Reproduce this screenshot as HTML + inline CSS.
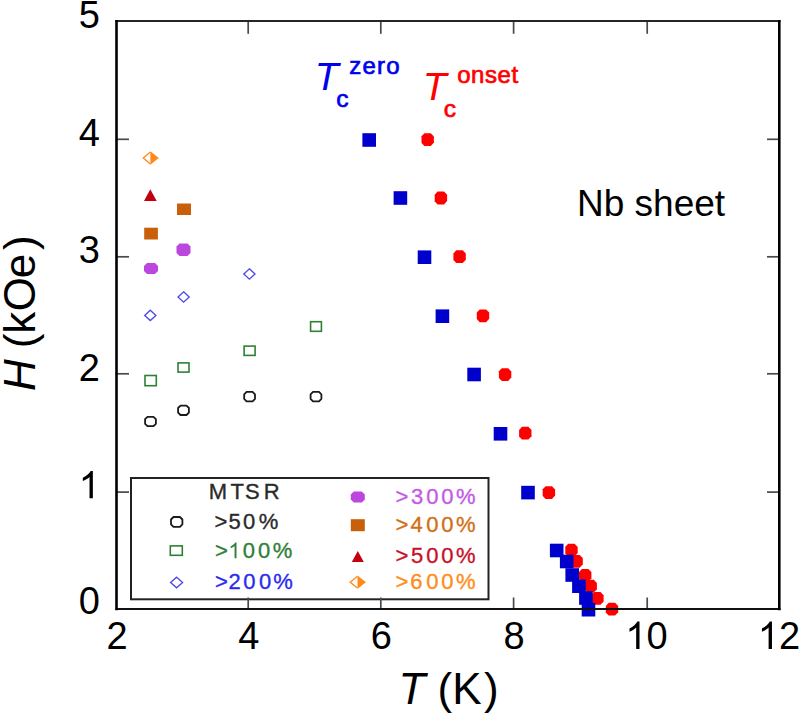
<!DOCTYPE html>
<html><head><meta charset="utf-8">
<style>
html,body{margin:0;padding:0;background:#fff;}
body{width:800px;height:714px;overflow:hidden;}
svg{display:block;}
text{font-family:"Liberation Sans", sans-serif;}
</style></head>
<body>
<svg width="800" height="714" viewBox="0 0 800 714">
<defs><path id="one" d="M763 0 L583 0 L583 1147 Q518 1085 415 1024 Q312 963 223 930 L223 1104 Q374 1175 486.5 1275.5 Q599 1376 648 1472 L763 1472 Z"/><path id="oct" d="M-3.3 -6.4 H3.1 L6.2 -3.2 V3 L3.1 6.4 H-3.3 L-6.2 3.3 V-3.3 Z"/></defs>
<rect width="800" height="714" fill="#fff"/>

<!-- Tc labels -->
<g fill="#0000ee">
<text x="314.7" y="89.7" font-size="39" font-style="italic">T</text>
<g stroke="#0000ee" stroke-width="0.7"><text x="336.3" y="107" font-size="24.5">c</text>
<text x="349.2" y="73.6" font-size="24" letter-spacing="1.2">zero</text></g>
</g>
<g fill="#ff0000">
<text x="422.8" y="99.5" font-size="39" font-style="italic">T</text>
<g stroke="#ff0000" stroke-width="0.7"><text x="443.8" y="117" font-size="24.5">c</text>
<text x="457.2" y="83" font-size="24" letter-spacing="0.55">onset</text></g>
</g>

<text x="577" y="216" font-size="37" fill="#000">Nb sheet</text>

<!-- MTSR data -->
<g fill="none" stroke="#1a1a1a" stroke-width="1.8" stroke-linejoin="round">
<path d="M147.5 416.8 L153.5 416.8 L155.9 419.2 L155.9 423.8 L153.5 426.2 L147.5 426.2 L145.1 423.8 L145.1 419.2 Z"/>
<path d="M180.5 405.6 L186.5 405.6 L188.9 408.0 L188.9 412.6 L186.5 415.0 L180.5 415.0 L178.1 412.6 L178.1 408.0 Z"/>
<path d="M246.6 391.9 L252.6 391.9 L255.0 394.3 L255.0 398.9 L252.6 401.3 L246.6 401.3 L244.2 398.9 L244.2 394.3 Z"/>
<path d="M313.0 391.9 L319.0 391.9 L321.4 394.3 L321.4 398.9 L319.0 401.3 L313.0 401.3 L310.6 398.9 L310.6 394.3 Z"/>
</g>
<g fill="none" stroke="#2f8037" stroke-width="1.6">
<rect x="145.0" y="375.5" width="11.3" height="10.2"/>
<rect x="178.0" y="362.9" width="11.0" height="9.2"/>
<rect x="244.1" y="346.1" width="11.0" height="9.3"/>
<rect x="310.6" y="321.7" width="10.8" height="9.6"/>
</g>
<g fill="none" stroke="#4a4ae8" stroke-width="1.35">
<path d="M150.3 310.2 L155.9 315.4 L150.3 320.6 L144.7 315.4 Z"/>
<path d="M183.6 291.8 L189.2 297 L183.6 302.2 L178 297 Z"/>
<path d="M249.4 268.8 L255 274 L249.4 279.2 L243.8 274 Z"/>
</g>
<g fill="#bb47dd">
<path d="M147 263 h8 l3 3 v5 l-3 3 h-8 l-3 -3 v-5 z"/>
<path d="M179.5 243.5 h8 l3 3 v6.5 l-3 3 h-8 l-3 -3 v-6.5 z"/>
</g>
<g fill="#c8600a">
<rect x="144.2" y="227.7" width="13.7" height="11.8"/>
<rect x="177" y="203.5" width="14" height="11.5"/>
</g>
<path d="M150.3 189.3 L156.7 201 L144 201 Z" fill="#c20010"/>
<g>
<path d="M150.4 151.2 L158.8 158 L150.4 164.8 Z" fill="#ff8a1a"/>
<path d="M150.4 151.9 L143.3 158 L150.4 164.1" fill="none" stroke="#ff8a1a" stroke-width="1.3"/>
</g>

<!-- Tc onset red circles -->
<g fill="#ff0000">
<use href="#oct" x="427.7" y="139.6"/>
<use href="#oct" x="440.9" y="198.0"/>
<use href="#oct" x="459.6" y="256.7"/>
<use href="#oct" x="483.0" y="315.8"/>
<use href="#oct" x="505.1" y="374.6"/>
<use href="#oct" x="525.3" y="433.2"/>
<use href="#oct" x="548.9" y="492.6"/>
<use href="#oct" x="571.5" y="550.1"/>
<use href="#oct" x="576.6" y="561.3"/>
<use href="#oct" x="585.2" y="575.3"/>
<use href="#oct" x="590.7" y="586.2"/>
<use href="#oct" x="597.4" y="598.4"/>
<use href="#oct" x="612.0" y="609.2"/>
</g>
<!-- Tc zero blue squares -->
<g fill="#0000cc">
<rect x="362.4" y="133.2" width="13.6" height="13.6"/>
<rect x="393.6" y="191.2" width="13.6" height="13.6"/>
<rect x="417.7" y="250.4" width="13.6" height="13.6"/>
<rect x="435.6" y="309.4" width="13.6" height="13.6"/>
<rect x="467.3" y="367.7" width="13.6" height="13.6"/>
<rect x="493.7" y="427" width="13.6" height="13.6"/>
<rect x="521.2" y="485.8" width="13.6" height="13.6"/>
<rect x="549.9" y="543.7" width="13.6" height="13.6"/>
<rect x="559.9" y="554.7" width="13.6" height="13.6"/>
<rect x="565.4" y="568.2" width="13.6" height="13.6"/>
<rect x="572.1" y="579.4" width="13.6" height="13.6"/>
<rect x="579.1" y="591.2" width="13.6" height="13.6"/>
<rect x="581.7" y="602.9" width="13.6" height="13.6"/>
</g>

<!-- Legend -->
<rect x="131" y="478" width="357.5" height="121.3" fill="#fff" stroke="#222" stroke-width="2"/>
<g font-size="22" stroke-width="0.35">
<text x="208.7 230.5 245 263.7" y="499.1" fill="#2a2a2a" stroke="#2a2a2a">MTSR</text>
<text x="214.4 228.6 243.1 258.7" y="528.9" fill="#2a2a2a" stroke="#2a2a2a">&gt;50%</text>
<text x="215 242.8 258 272.7" y="558.2" fill="#2f7f37" stroke="#2f7f37">&gt;00%</text>
<use href="#one" transform="translate(228.3 558.2) scale(0.010742 -0.010742)" fill="#2f7f37"/>
<text x="215 228.5 243.3 259.1 273.3" y="589" fill="#2a2af0" stroke="#2a2af0">&gt;200%</text>
<text x="395.6 410.9 426.2 441.3 456.1" y="503.8" fill="#c45ae6" stroke="#c45ae6">&gt;300%</text>
<text x="395.6 410.4 426.2 441.3 456.1" y="531.8" fill="#d07015" stroke="#d07015">&gt;400%</text>
<text x="395.6 410.9 426.2 441.3 456.1" y="563.4" fill="#c8102a" stroke="#c8102a">&gt;500%</text>
<text x="395.6 410.2 426.2 441.3 456.1" y="589.3" fill="#ff8c1a" stroke="#ff8c1a">&gt;600%</text>
</g>
<path d="M173.5 517.0 L179.9 517.0 L182.4 519.5 L182.4 524.3 L179.9 526.8 L173.5 526.8 L171.0 524.3 L171.0 519.5 Z" fill="none" stroke="#1a1a1a" stroke-width="1.8" stroke-linejoin="round"/>
<rect x="170.3" y="545.9" width="12" height="9.4" fill="none" stroke="#2f8037" stroke-width="1.6"/>
<path d="M176.6 577.2 L182.6 582.5 L176.6 587.8 L170.6 582.5 Z" fill="none" stroke="#4a4ae8" stroke-width="1.35"/>
<path d="M353.8 491.5 h8 l3 3 v5 l-3 3 h-8 l-3 -3 v-5 z" fill="#bb47dd"/>
<rect x="350.8" y="519.2" width="14" height="12" fill="#c8600a"/>
<path d="M357.8 551 L363.8 562 L351.8 562 Z" fill="#c20010"/>
<path d="M357.5 575.6 L366 582.2 L357.5 588.8 Z" fill="#ff8a1a"/>
<path d="M357.5 576.3 L350.2 582.2 L357.5 588.1" fill="none" stroke="#ff8a1a" stroke-width="1.3"/>

<!-- Frame -->
<g stroke="#4a4a4a" stroke-width="1.7">
<line x1="248.2" y1="21" x2="248.2" y2="33.8"/>
<line x1="380.8" y1="21" x2="380.8" y2="33.8"/>
<line x1="513.6" y1="21" x2="513.6" y2="33.8"/>
<line x1="647.2" y1="21" x2="647.2" y2="33.8"/>
<line x1="248.2" y1="609" x2="248.2" y2="597.5"/>
<line x1="380.8" y1="609" x2="380.8" y2="597.5"/>
<line x1="513.6" y1="609" x2="513.6" y2="597.5"/>
<line x1="647.2" y1="609" x2="647.2" y2="597.5"/>
<line x1="116.5" y1="139.3" x2="129" y2="139.3"/>
<line x1="116.5" y1="256.8" x2="129" y2="256.8"/>
<line x1="116.5" y1="373.8" x2="129" y2="373.8"/>
<line x1="116.5" y1="492.1" x2="129" y2="492.1"/>
<line x1="779.3" y1="139.3" x2="767" y2="139.3"/>
<line x1="779.3" y1="256.8" x2="767" y2="256.8"/>
<line x1="779.3" y1="373.8" x2="767" y2="373.8"/>
<line x1="779.3" y1="492.1" x2="767" y2="492.1"/>
</g>
<g stroke="#000">
<line x1="115.5" y1="21.1" x2="780.5" y2="21.1" stroke-width="2" stroke="#262626"/>
<line x1="115.5" y1="609.1" x2="780.5" y2="609.1" stroke-width="2" stroke="#111"/>
<line x1="116.5" y1="20" x2="116.5" y2="610.2" stroke-width="2.6"/>
<line x1="779.3" y1="20" x2="779.3" y2="610.2" stroke-width="2.6"/>
</g>

<!-- tick labels -->
<g font-size="38" fill="#000" text-anchor="end">
<text x="99.9" y="28.4">5</text>
<text x="99.9" y="145.7">4</text>
<text x="99.9" y="262.9">3</text>
<text x="99.9" y="381.3">2</text>
<text x="99.9" y="614.4">0</text>
</g>
<g font-size="38" fill="#000" text-anchor="middle">
<text x="117" y="648.9">2</text>
<text x="248.8" y="648.9">4</text>
<text x="381.3" y="648.9">6</text>
<text x="514" y="648.9">8</text>
<text x="646.5" y="648.9" text-anchor="start">0</text>
<text x="778.9" y="648.9" text-anchor="start">2</text>
</g>

<g fill="#000">
<use href="#one" transform="translate(78.7 498.2) scale(0.018555 -0.018555)"/>
<use href="#one" transform="translate(625.35 648.9) scale(0.018555 -0.018555)"/>
<use href="#one" transform="translate(757.8 648.9) scale(0.018555 -0.018555)"/>
</g>
<!-- axis titles -->
<text x="398.5" y="703.6" font-size="44" fill="#000"><tspan font-style="italic">T</tspan> (K<tspan dx="2.3">)</tspan></text>
<text transform="translate(35 391) rotate(-90)" font-size="44" fill="#000"><tspan font-style="italic">H</tspan> <tspan dx="-1.3">(</tspan><tspan dx="-0.1">k</tspan><tspan dx="0.4">O</tspan><tspan dx="-1.1">e</tspan><tspan dx="3.6">)</tspan></text>
</svg>
</body></html>
